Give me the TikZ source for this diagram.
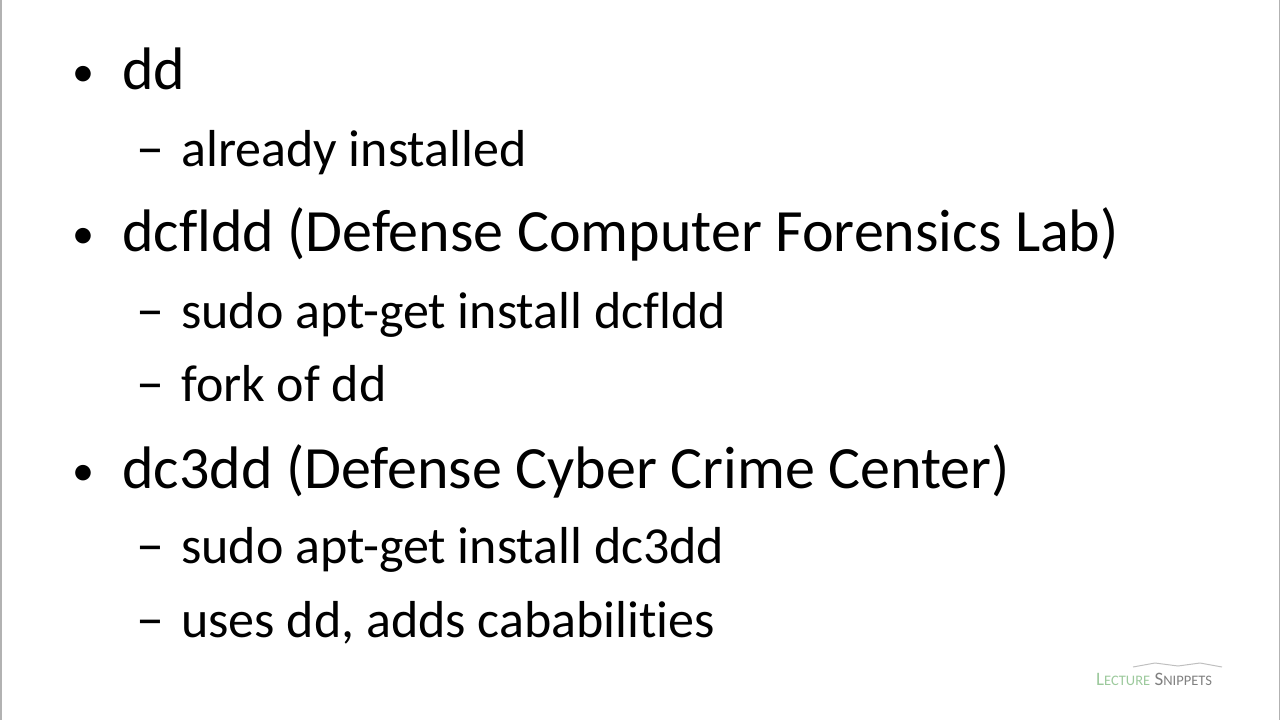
\documentclass[tikz,border=0pt]{standalone}
\usepackage{fontspec}
\setmainfont[RawFeature=-liga]{Carlito}
\begin{document}
\begin{tikzpicture}[x=1pt,y=-1pt,
 lone/.style={anchor=base west,font=\fontsize{60}{60}\selectfont,inner sep=0pt},
 ltwo/.style={anchor=base west,font=\fontsize{52}{52}\selectfont,inner sep=0pt},
 bul/.style={anchor=base west,font=\fontsize{44}{44}\selectfont,inner sep=0pt},
 dsh/.style={anchor=base west,font=\fontsize{56}{56}\selectfont,inner sep=0pt}]
\useasboundingbox (0,0) rectangle (1280,720);
\draw[gray!60,line width=1.5pt] (0.75,0) -- (0.75,720) (1279.25,0) -- (1279.25,720);
\node[bul] (b1) at (72,86) {•};
\node[lone] (t1) at (122,89) {dd};
\node[dsh] (d1) at (136,166) {–};
\node[ltwo] (s1) at (181,166) {already installed};
\node[bul] (b2) at (72,248) {•};
\node[lone] (t2) at (122,251) {dcfldd (Defense Computer Forensics Lab)};
\node[dsh] (d2) at (136,328) {–};
\node[ltwo] (s2) at (181,328) {sudo apt-get install dcfldd};
\node[dsh] (d3) at (136,401) {–};
\node[ltwo] (s3) at (181,401) {fork of dd};
\node[bul] (b3) at (72,485) {•};
\node[lone] (t3) at (122,488) {dc3dd (Defense Cyber Crime Center)};
\node[dsh] (d4) at (136,563) {–};
\node[ltwo] (s4) at (181,563) {sudo apt-get install dc3dd};
\node[dsh] (d5) at (136,637) {–};
\node[ltwo] (s5) at (181,637) {uses dd, adds cababilities};
\draw[gray!50,line width=1pt] (1133,667) -- (1155,663) -- (1178,666) -- (1200,663) -- (1222,667);
\node[anchor=base west,inner sep=0pt,font=\fontsize{19}{19}\selectfont] (logo) at (1096,685)
 {\textcolor{green!30!gray!60}{L\fontsize{14.5}{14.5}\selectfont ECTURE} \textcolor{gray}{\fontsize{19}{19}\selectfont S\fontsize{14.5}{14.5}\selectfont NIPPETS}};
\end{tikzpicture}
\end{document}
